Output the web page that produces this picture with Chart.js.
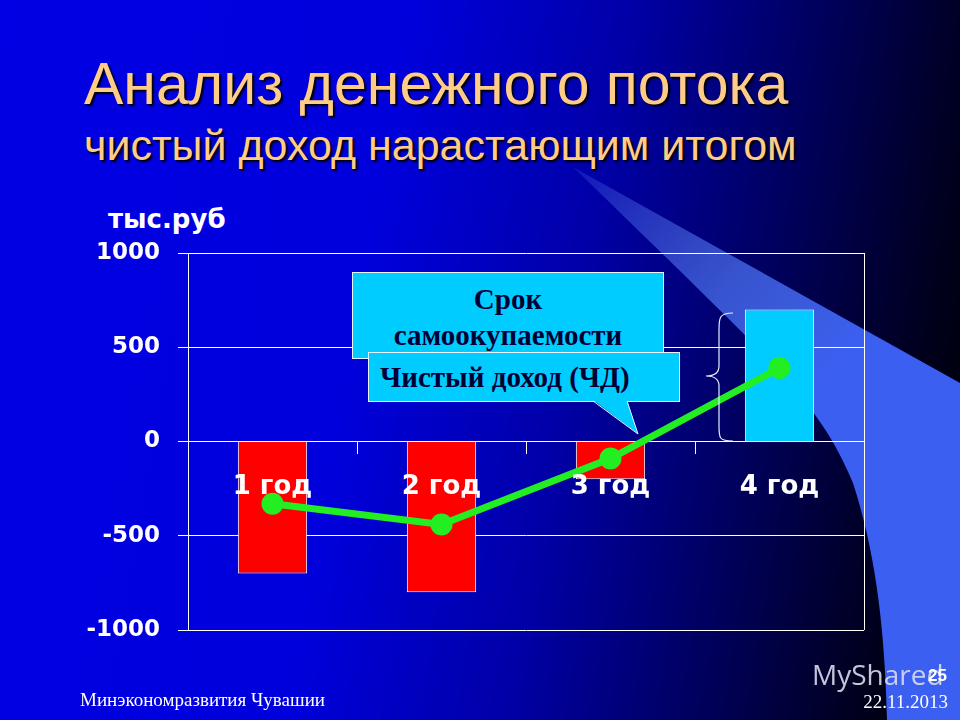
<!DOCTYPE html>
<html>
<head>
<meta charset="utf-8">
<script src="https://cdn.jsdelivr.net/npm/chart.js@4"></script>
<style>
    html, body { margin: 0; padding: 0; }
    #slide {
        position: relative; width: 960px; height: 720px; overflow: hidden;
        background: linear-gradient(100deg, #0000e4 0%, #0000dc 38%, #0000a8 58%, #00005c 76%, #000018 92%, #000000 100%);
    }
    .abs { position: absolute; }
    .title { left: 84px; top: 55px; font: 59px "Liberation Sans", Arial, sans-serif; line-height: 1; color: #ffcc88; text-shadow: 2px 2px 2px #000; white-space: nowrap; }
    .sub { left: 84px; top: 124px; font: 43px "Liberation Sans", Arial, sans-serif; line-height: 1; color: #ffcc88; text-shadow: 2px 2px 2px #000; white-space: nowrap; }
    .unit { left: 108px; top: 206px; font: bold 26px "DejaVu Sans", sans-serif; line-height: 1; color: #fff; }
    #wrap { left: 0; top: 0; width: 960px; height: 720px; }
    .box { background: #00ccff; border: 1px solid #e8f4ff; box-sizing: border-box; color: #000033;
           font: bold 29px "Liberation Serif", "Times New Roman", serif; text-align: center; }
    .box1 { left: 352px; top: 272px; width: 312px; height: 87px; line-height: 36px; padding-top: 8px; }
    .box2 { left: 368px; top: 352px; width: 312px; height: 50px; line-height: 48px; text-align: left; padding-left: 11px; }
    .foot { font: 19px "Liberation Serif", "Times New Roman", serif; color: #fff; line-height: 1; white-space: nowrap; }
</style>
</head>
<body>
<div id="slide">
    <svg class="abs" width="960" height="720" style="left:0;top:0">
        <defs>
            <linearGradient id="bandFill" gradientUnits="userSpaceOnUse" x1="573" y1="167" x2="820" y2="380">
                <stop offset="0" stop-color="#6a8cff" stop-opacity="0.15"/>
                <stop offset="0.6" stop-color="#4a70f0" stop-opacity="0.75"/>
                <stop offset="1" stop-color="#3b5ff0" stop-opacity="1"/>
            </linearGradient>
        </defs>
        <path d="M573,167 L960,383 L960,720 L887,720 C885,640 878,560 853,483 C835,440 815,410 770,360 C740,330 700,290 573,167 Z" fill="url(#bandFill)"/>
    </svg>

    <div class="abs title">Анализ денежного потока</div>
    <div class="abs sub">чистый доход нарастающим итогом</div>
    <div class="abs unit">тыс.руб</div>

    <div id="wrap" class="abs"><canvas id="cashChart"></canvas></div>

    <svg class="abs" width="960" height="720" style="left:0;top:0;z-index:3">
        <!-- brace next to year 4 -->
        <path d="M733,313 C719,313 719,318 719,330 L719,366 C719,373 714,376 706,376 C714,376 719,379 719,386 L719,426 C719,438 719,441 733,441"
              fill="none" stroke="#e8eeff" stroke-width="1.2"/>
    </svg>
    <div class="abs box box1" style="z-index:4">Срок<br>самоокупаемости</div>
    <div class="abs box box2" style="z-index:5">Чистый доход (ЧД)</div>
    <svg class="abs" width="960" height="720" style="left:0;top:0;z-index:6">
        <polygon points="593,400 627,400 638,434" fill="#00ccff"/>
        <polyline points="593,401 638,434 627,401" fill="none" stroke="#e8f4ff" stroke-width="1"/>
    </svg>

    <div class="abs" style="left:812px;top:660px;font:28px 'Open Sans',sans-serif;color:rgba(215,220,235,0.9);line-height:1">MyShared</div>
    <div class="abs foot" style="left:80px;top:690px">Минэкономразвития Чувашии</div>
    <div class="abs" style="left:928px;top:667px;font:bold 17px 'Liberation Sans',sans-serif;color:#fff;line-height:1">25</div>
    <div class="abs foot" style="right:12px;top:692px">22.11.2013</div>
</div>

<script>
// ==================== DATA ====================
const years = ['1 год', '2 год', '3 год', '4 год'];
const cashFlow = [-700, -800, -200, 700];        // bars, тыс.руб
const netIncomeCum = [-330, -440, -90, 390];     // green line
const yTicks = [-1000, -500, 0, 500, 1000];

const barColors = cashFlow.map(v => v < 0 ? '#ff0000' : '#00ccff');

// right-hand border of the plot frame
const framePlugin = {
    id: 'frame',
    beforeDatasetsDraw(chart) {
        const { ctx, chartArea: a } = chart;
        ctx.save();
        ctx.strokeStyle = '#ffffff';
        ctx.lineWidth = 1;
        ctx.beginPath();
        ctx.moveTo(Math.round(a.right) + 0.5, a.top);
        ctx.lineTo(Math.round(a.right) + 0.5, a.bottom);
        ctx.stroke();
        ctx.restore();
    }
};

const labelFont = { family: 'DejaVu Sans', weight: 'bold', size: 23 };

new Chart(document.getElementById('cashChart'), {
    type: 'bar',
    data: {
        labels: years,
        datasets: [
            {
                type: 'line',
                data: netIncomeCum,
                borderColor: '#22ee22',
                backgroundColor: '#22ee22',
                borderWidth: 7,
                pointRadius: 11,
                pointBorderWidth: 0,
                pointBackgroundColor: '#22ee22',
                order: 1
            },
            {
                data: cashFlow,
                backgroundColor: barColors,
                borderColor: '#ffffff',
                borderWidth: 1,
                barPercentage: 0.41,
                categoryPercentage: 1,
                order: 2
            }
        ]
    },
    options: {
        responsive: true,
        maintainAspectRatio: false,
        animation: false,
        layout: { padding: { top: 253, left: 0, right: 96, bottom: 90 } },
        plugins: { legend: { display: false }, tooltip: { enabled: false } },
        scales: {
            y: {
                min: -1000, max: 1000,
                afterFit: s => { s.width = 188; },
                afterBuildTicks: s => { s.ticks = yTicks.map(v => ({ value: v })); },
                ticks: { color: '#ffffff', font: labelFont, padding: 18, callback: v => String(v) },
                grid: { color: '#ffffff', lineWidth: 1, tickLength: 10 },
                border: { color: '#ffffff', width: 1 }
            },
            x: {
                position: { y: 0 },
                // year labels sit on top of the red bars
                ticks: { z: 1, color: '#ffffff', font: { ...labelFont, size: 26 }, padding: 18 },
                grid: { drawOnChartArea: false, color: '#ffffff', tickLength: 12 },
                border: { color: '#ffffff', width: 1 }
            }
        }
    },
    plugins: [framePlugin]
});
</script>
</body>
</html>
